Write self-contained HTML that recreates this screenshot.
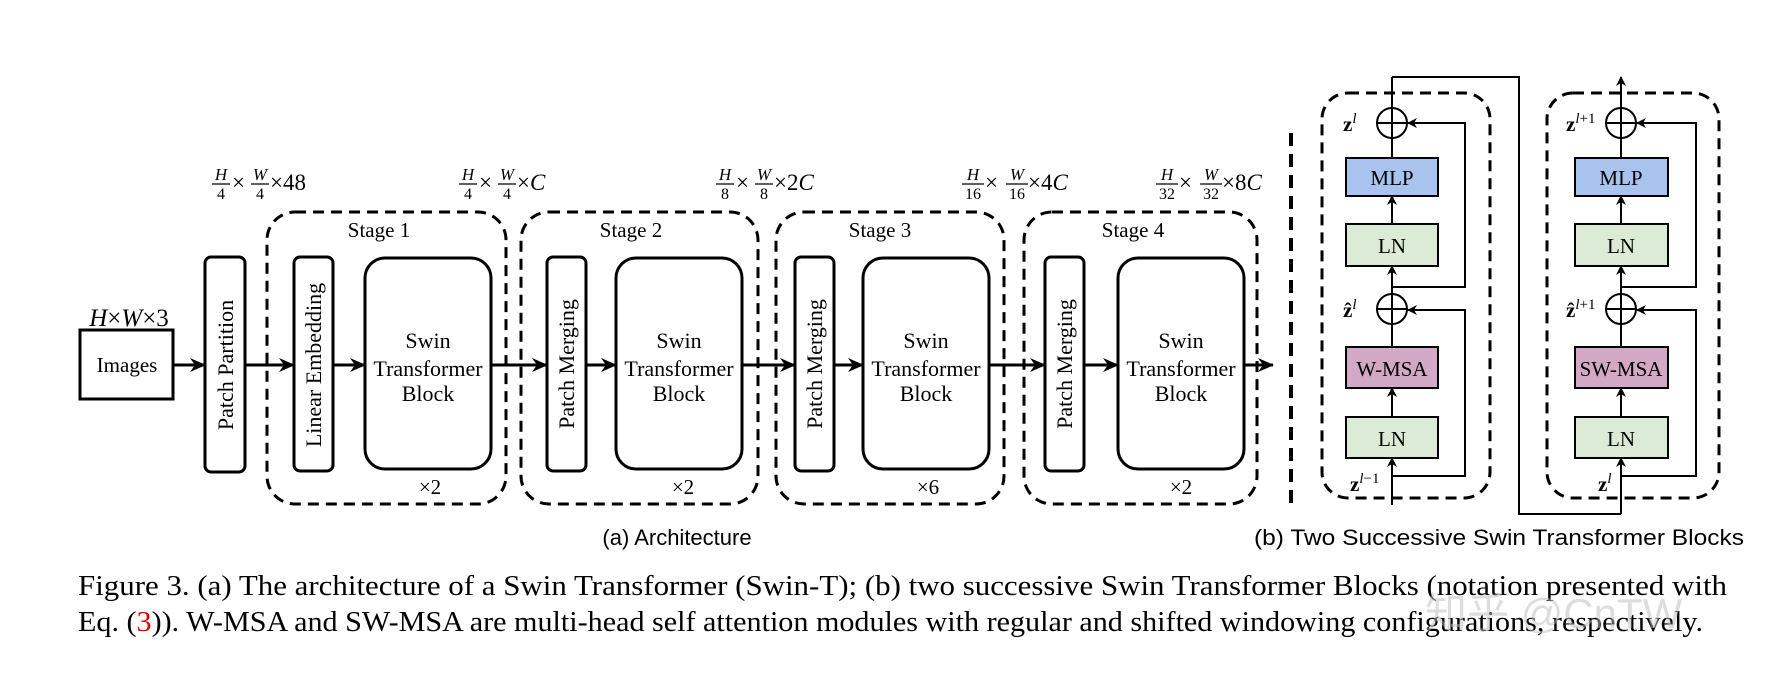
<!DOCTYPE html>
<html><head><meta charset="utf-8"><style>
html,body{margin:0;padding:0;background:#fff;}
svg{display:block;}
.s{font-family:"Liberation Serif",serif;}
.a{font-family:"Liberation Sans",sans-serif;}
</style></head><body>
<svg width="1782" height="674" viewBox="0 0 1782 674" xmlns="http://www.w3.org/2000/svg">
<defs>
<marker id="ah" markerWidth="10" markerHeight="10" refX="9" refY="5" orient="auto" markerUnits="userSpaceOnUse" viewBox="0 0 10 10">
<path d="M0,0 L10,5 L0,10 L3,5 Z" fill="#000"/></marker>
<marker id="am" markerWidth="16" markerHeight="16" refX="15" refY="8" orient="auto" markerUnits="userSpaceOnUse" viewBox="0 0 16 16">
<path d="M0,1 L16,8 L0,15 L5,8 Z" fill="#000"/></marker>
</defs>
<rect width="1782" height="674" fill="#fff"/>
<g class="s" fill="#000">
<g font-size="23">
 <g transform="translate(212,190)"><text x="9" y="-10" text-anchor="middle" font-style="italic" font-size="17">H</text><line x1="0" x2="18" y1="-6" y2="-6" stroke="#000" stroke-width="1.2"/><text x="9" y="9" text-anchor="middle" font-size="16">4</text>
 <text x="20" y="0">×</text><text x="48" y="-10" text-anchor="middle" font-style="italic" font-size="17">W</text><line x1="39" x2="57" y1="-6" y2="-6" stroke="#000" stroke-width="1.2"/><text x="48" y="9" text-anchor="middle" font-size="16">4</text><text x="58" y="0">×48</text></g>
 <g transform="translate(459,190)"><text x="9" y="-10" text-anchor="middle" font-style="italic" font-size="17">H</text><line x1="0" x2="18" y1="-6" y2="-6" stroke="#000" stroke-width="1.2"/><text x="9" y="9" text-anchor="middle" font-size="16">4</text>
 <text x="20" y="0">×</text><text x="48" y="-10" text-anchor="middle" font-style="italic" font-size="17">W</text><line x1="39" x2="57" y1="-6" y2="-6" stroke="#000" stroke-width="1.2"/><text x="48" y="9" text-anchor="middle" font-size="16">4</text><text x="58" y="0">×<tspan font-style="italic">C</tspan></text></g>
 <g transform="translate(716,190)"><text x="9" y="-10" text-anchor="middle" font-style="italic" font-size="17">H</text><line x1="0" x2="18" y1="-6" y2="-6" stroke="#000" stroke-width="1.2"/><text x="9" y="9" text-anchor="middle" font-size="16">8</text>
 <text x="20" y="0">×</text><text x="48" y="-10" text-anchor="middle" font-style="italic" font-size="17">W</text><line x1="39" x2="57" y1="-6" y2="-6" stroke="#000" stroke-width="1.2"/><text x="48" y="9" text-anchor="middle" font-size="16">8</text><text x="58" y="0">×2<tspan font-style="italic">C</tspan></text></g>
 <g transform="translate(962,190)"><text x="11" y="-10" text-anchor="middle" font-style="italic" font-size="17">H</text><line x1="0" x2="22" y1="-6" y2="-6" stroke="#000" stroke-width="1.2"/><text x="11" y="9" text-anchor="middle" font-size="16">16</text>
 <text x="23" y="0">×</text><text x="55" y="-10" text-anchor="middle" font-style="italic" font-size="17">W</text><line x1="44" x2="66" y1="-6" y2="-6" stroke="#000" stroke-width="1.2"/><text x="55" y="9" text-anchor="middle" font-size="16">16</text><text x="66" y="0">×4<tspan font-style="italic">C</tspan></text></g>
 <g transform="translate(1156,190)"><text x="11" y="-10" text-anchor="middle" font-style="italic" font-size="17">H</text><line x1="0" x2="22" y1="-6" y2="-6" stroke="#000" stroke-width="1.2"/><text x="11" y="9" text-anchor="middle" font-size="16">32</text>
 <text x="23" y="0">×</text><text x="55" y="-10" text-anchor="middle" font-style="italic" font-size="17">W</text><line x1="44" x2="66" y1="-6" y2="-6" stroke="#000" stroke-width="1.2"/><text x="55" y="9" text-anchor="middle" font-size="16">32</text><text x="66" y="0">×8<tspan font-style="italic">C</tspan></text></g>
</g>
<text x="129" y="326" text-anchor="middle" font-size="25"><tspan font-style="italic">H</tspan>×<tspan font-style="italic">W</tspan>×3</text>
</g>

<g fill="none" stroke="#000" stroke-width="3" stroke-dasharray="11,7">
<rect x="267" y="212" width="239" height="292" rx="28"/>
<rect x="521" y="212" width="237" height="292" rx="28"/>
<rect x="776" y="212" width="228" height="292" rx="28"/>
<rect x="1024" y="212" width="233" height="292" rx="28"/>
<rect x="1322" y="93" width="168" height="405" rx="26"/>
<rect x="1547" y="93" width="172" height="405" rx="26"/>
</g>
<line x1="1291" y1="133" x2="1291" y2="503" stroke="#000" stroke-width="4" stroke-dasharray="13,8"/>

<g fill="#fff" stroke="#000" stroke-width="3">
<rect x="80" y="330" width="93" height="69"/>
<rect x="205" y="257" width="40" height="215" rx="6"/>
<rect x="294" y="257" width="39" height="214" rx="6"/>
<rect x="365" y="258" width="126" height="211" rx="20"/>
<rect x="547" y="257" width="39" height="214" rx="6"/>
<rect x="616" y="258" width="126" height="211" rx="20"/>
<rect x="795" y="257" width="39" height="214" rx="6"/>
<rect x="863" y="258" width="126" height="211" rx="20"/>
<rect x="1045" y="257" width="39" height="214" rx="6"/>
<rect x="1118" y="258" width="126" height="211" rx="20"/>
</g>

<g stroke="#000" stroke-width="3" marker-end="url(#am)">
<line x1="173" y1="365" x2="205" y2="365"/>
<line x1="245" y1="365" x2="294" y2="365"/>
<line x1="333" y1="365" x2="365" y2="365"/>
<line x1="491" y1="365" x2="547" y2="365"/>
<line x1="586" y1="365" x2="616" y2="365"/>
<line x1="742" y1="365" x2="795" y2="365"/>
<line x1="834" y1="365" x2="863" y2="365"/>
<line x1="989" y1="365" x2="1045" y2="365"/>
<line x1="1084" y1="365" x2="1118" y2="365"/>
<line x1="1244" y1="365" x2="1273" y2="365"/>
</g>

<g class="s" fill="#000" font-size="22">
<text x="127" y="372" text-anchor="middle" font-size="21">Images</text>
<text transform="translate(233,365) rotate(-90)" text-anchor="middle">Patch Partition</text>
<text transform="translate(321,365) rotate(-90)" text-anchor="middle">Linear Embedding</text>
<text transform="translate(574,364) rotate(-90)" text-anchor="middle">Patch Merging</text>
<text transform="translate(822,364) rotate(-90)" text-anchor="middle">Patch Merging</text>
<text transform="translate(1072,364) rotate(-90)" text-anchor="middle">Patch Merging</text>
<g text-anchor="middle">
<text x="428" y="348">Swin</text><text x="428" y="376">Transformer</text><text x="428" y="401">Block</text>
<text x="679" y="348">Swin</text><text x="679" y="376">Transformer</text><text x="679" y="401">Block</text>
<text x="926" y="348">Swin</text><text x="926" y="376">Transformer</text><text x="926" y="401">Block</text>
<text x="1181" y="348">Swin</text><text x="1181" y="376">Transformer</text><text x="1181" y="401">Block</text>
<text x="379" y="237" font-size="21">Stage 1</text>
<text x="631" y="237" font-size="21">Stage 2</text>
<text x="880" y="237" font-size="21">Stage 3</text>
<text x="1133" y="237" font-size="21">Stage 4</text>
<text x="430" y="494" font-size="21">×2</text>
<text x="683" y="494" font-size="21">×2</text>
<text x="928" y="494" font-size="21">×6</text>
<text x="1181" y="494" font-size="21">×2</text>
</g>
</g>

<g stroke="#000" stroke-width="2">
<rect x="1346" y="158" width="92" height="38" fill="#a8c4ee"/>
<rect x="1346" y="224" width="92" height="42" fill="#dcebd6"/>
<rect x="1346" y="347" width="92" height="41" fill="#d2a8c6"/>
<rect x="1346" y="417" width="92" height="41" fill="#dcebd6"/>
<rect x="1575" y="158" width="93" height="38" fill="#a8c4ee"/>
<rect x="1575" y="224" width="93" height="42" fill="#dcebd6"/>
<rect x="1575" y="347" width="93" height="41" fill="#d2a8c6"/>
<rect x="1575" y="417" width="93" height="41" fill="#dcebd6"/>
<g fill="none">
<circle cx="1392" cy="123" r="15"/><line x1="1377" y1="123" x2="1407" y2="123"/>
<circle cx="1392" cy="309" r="15"/><line x1="1377" y1="309" x2="1407" y2="309"/>
<circle cx="1621" cy="123" r="15"/><line x1="1606" y1="123" x2="1636" y2="123"/>
<circle cx="1621" cy="309" r="15"/><line x1="1606" y1="309" x2="1636" y2="309"/>
<line x1="1392" y1="505" x2="1392" y2="458" marker-end="url(#ah)"/>
<line x1="1392" y1="417" x2="1392" y2="388" marker-end="url(#ah)"/>
<line x1="1392" y1="347" x2="1392" y2="294"/>
<line x1="1392" y1="324" x2="1392" y2="266" marker-end="url(#ah)"/>
<line x1="1392" y1="224" x2="1392" y2="196" marker-end="url(#ah)"/>
<line x1="1392" y1="158" x2="1392" y2="77"/>
<polyline points="1392,476 1465,476 1465,310 1408,310" marker-end="url(#ah)"/>
<polyline points="1392,287 1465,287 1465,123 1408,123" marker-end="url(#ah)"/>
<polyline points="1392,77 1519,77 1519,514 1621,514"/>
<line x1="1621" y1="514" x2="1621" y2="458" marker-end="url(#ah)"/>
<line x1="1621" y1="417" x2="1621" y2="388" marker-end="url(#ah)"/>
<line x1="1621" y1="347" x2="1621" y2="294"/>
<line x1="1621" y1="324" x2="1621" y2="266" marker-end="url(#ah)"/>
<line x1="1621" y1="224" x2="1621" y2="196" marker-end="url(#ah)"/>
<line x1="1621" y1="158" x2="1621" y2="77" marker-end="url(#ah)"/>
<polyline points="1621,476 1696,476 1696,310 1637,310" marker-end="url(#ah)"/>
<polyline points="1621,287 1696,287 1696,123 1637,123" marker-end="url(#ah)"/>
</g>
</g>
<g class="s" fill="#000" font-size="21" text-anchor="middle">
<text x="1392" y="185">MLP</text><text x="1392" y="253">LN</text><text x="1392" y="376">W-MSA</text><text x="1392" y="446">LN</text>
<text x="1621" y="185">MLP</text><text x="1621" y="253">LN</text><text x="1621" y="376">SW-MSA</text><text x="1621" y="446">LN</text>
</g>
<g class="s" fill="#000" font-size="21" font-weight="bold">
<text x="1343" y="131">z<tspan font-size="15" font-weight="normal" font-style="italic" dy="-8">l</tspan></text>
<text x="1343" y="317">ẑ<tspan font-size="15" font-weight="normal" font-style="italic" dy="-8">l</tspan></text>
<text x="1350" y="491">z<tspan font-size="15" font-weight="normal" font-style="italic" dy="-8">l</tspan><tspan font-size="15" font-weight="normal">−1</tspan></text>
<text x="1566" y="131">z<tspan font-size="15" font-weight="normal" font-style="italic" dy="-8">l</tspan><tspan font-size="15" font-weight="normal">+1</tspan></text>
<text x="1566" y="317">ẑ<tspan font-size="15" font-weight="normal" font-style="italic" dy="-8">l</tspan><tspan font-size="15" font-weight="normal">+1</tspan></text>
<text x="1598" y="491">z<tspan font-size="15" font-weight="normal" font-style="italic" dy="-8">l</tspan></text>
</g>

<g class="a" fill="#000" font-size="22">
<text x="677" y="545" text-anchor="middle">(a) Architecture</text>
<text x="1254" y="545" textLength="490" lengthAdjust="spacingAndGlyphs">(b) Two Successive Swin Transformer Blocks</text>
</g>
<g class="s" fill="#000" font-size="28">
<text x="78" y="595" textLength="1649" lengthAdjust="spacingAndGlyphs">Figure 3. (a) The architecture of a Swin Transformer (Swin-T); (b) two successive Swin Transformer Blocks (notation presented with</text>
<text x="78" y="631" textLength="1625" lengthAdjust="spacingAndGlyphs">Eq. (<tspan fill="#d00">3</tspan>)). W-MSA and SW-MSA are multi-head self attention modules with regular and shifted windowing configurations, respectively.</text>
</g>
<text x="1425" y="628" font-family="'Liberation Sans','Noto Sans CJK SC',sans-serif" font-size="42" fill="#bbb" fill-opacity="0.5">知乎 @CnTW</text>
</svg>
</body></html>
